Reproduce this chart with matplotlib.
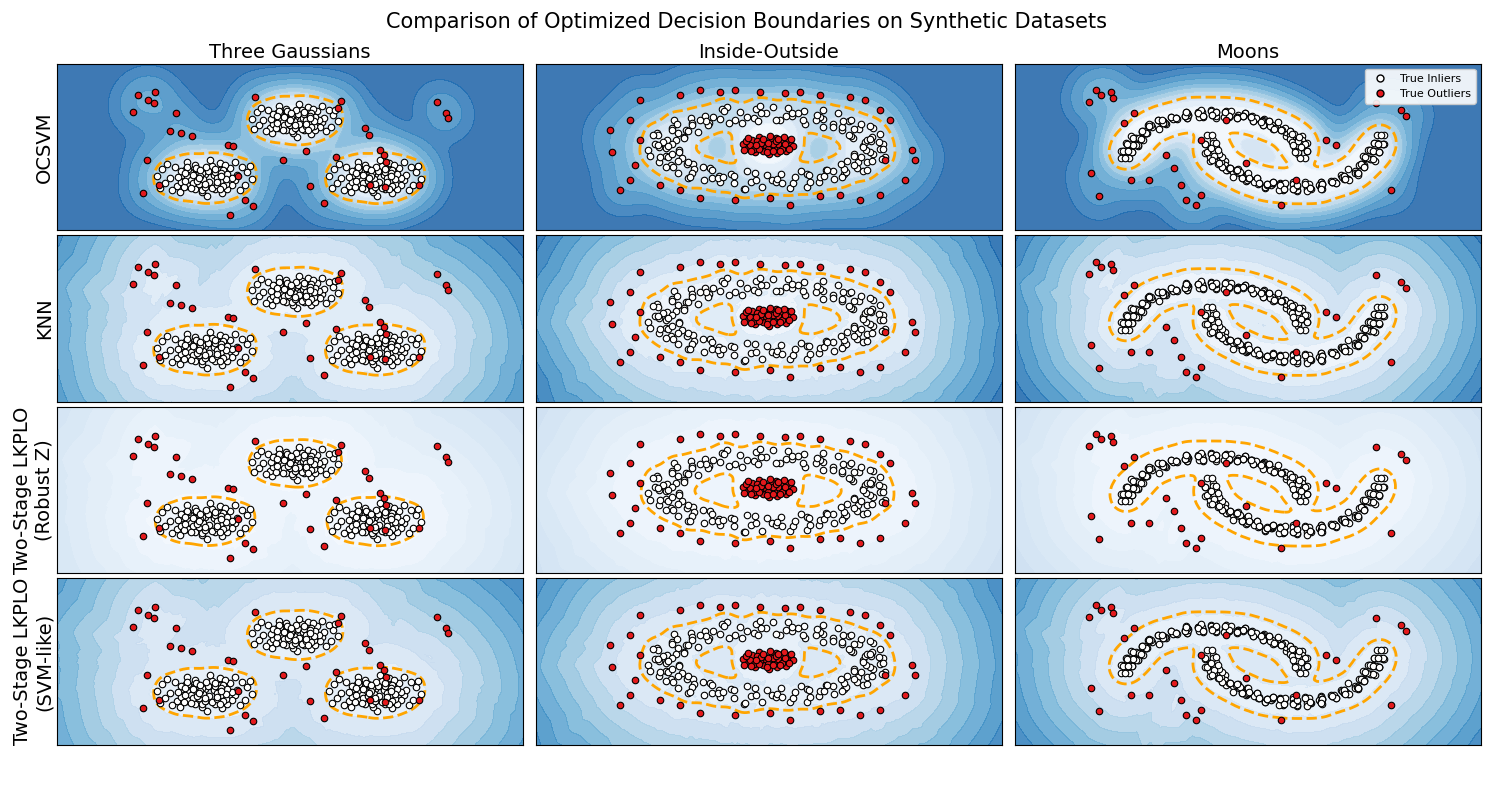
import numpy as np
import matplotlib
matplotlib.use("Agg")
import matplotlib.pyplot as plt
from matplotlib.lines import Line2D

# ---------------- data (panel units: x 0..466, y 0..167) ----------------
off = [(0.12,0.35),(-0.45,0.2),(0.6,-0.1),(-0.2,-0.55),(0.85,0.3),(-0.8,-0.25),(0.3,0.75),(-0.35,0.8),
       (0.05,-0.9),(0.5,0.5),(-0.6,0.55),(0.7,-0.6),(-0.1,0.05),(0.25,-0.3),(-0.5,-0.7),(0.95,-0.05),
       (-0.95,0.1),(0.4,0.1),(-0.3,-0.15),(0.15,0.6),(-0.7,0.0),(0.55,-0.35),(-0.15,0.45),(0.35,-0.75),
       (-0.4,0.4),(0.75,0.55),(-0.85,0.45),(0.0,-0.4),(0.2,0.15),(-0.25,0.25),(0.65,0.15),(-0.55,-0.4),
       (0.1,0.9),(-0.05,-0.7),(0.45,-0.55),(-0.65,-0.6),(0.8,-0.35),(-0.75,0.7),(0.3,0.4),(-0.35,-0.4),
       (0.0,0.2),(0.6,0.8),(-0.2,0.65),(0.9,0.6),(-0.9,-0.5),(0.2,-0.55),(-0.45,0.0),(0.4,0.65)]

gauss_centers = [(238,110,45,18),(148,52,50,20),(318,52,48,20)]
gauss_outliers = [(81,135),(91,130),(98,138),(97,127),(76,118),(119,117),(113,99),(124,97),(171,85),
                  (176,84),(86,37),(90,70),(102,45),(135,94),(188,30),(181,54),(226,70),(249,79),
                  (198,133),(284,129),(281,122),(308,102),(312,95),(323,80),(327,75),(329,68),(279,73),
                  (253,44),(267,27),(362,45),(380,128),(389,117),(391,112),(196,24),(173,15),(313,45),(328,43)]

ring_center = (232, 83)
ring_rx = (88, 122)
ring_ry = (25, 43)
ang = [3,8,14,19,25,31,36,41,47,52,58,63,69,74,80,85,91,96,102,107,113,118,124,129,135,140,146,151,
       157,162,168,173,179,184,190,195,201,206,212,217,223,228,234,239,245,250,256,261,267,272,278,283,
       289,294,300,305,311,316,322,327,333,338,344,349,355,11,28,44,61,77,94,110,127,143,160,176,193,
       209,226,242,259,275,292,308,325,341,358]
frac = [0.2,0.7,0.4,0.9,0.1,0.55,0.8,0.3,0.65,0.05,0.45,0.95,0.25,0.6,0.85,0.15,0.5,0.75,0.35,0.0,
        0.9,0.4,0.7,0.2,0.55,1.0,0.3,0.65,0.1,0.8,0.45,0.25,0.6,0.95,0.05,0.5,0.85,0.35,0.7,0.15,0.4,
        0.9,0.2,0.6,0.75,0.3,0.0,0.55,0.85,0.45,0.1,0.65,0.95,0.25,0.5,0.8,0.35,0.6,0.15,0.9,0.4,0.7,
        0.05,0.55,0.3,0.5,0.1,0.8,0.35,0.6,0.9,0.2,0.45,0.75,0.05,0.65,0.3,0.85,0.15,0.55,0.95,0.4,
        0.7,0.25,0.6,0.1,0.8]
ring_core = (232, 85, 26, 10)
ring_outliers = [(74,100),(76,78),(94,110),(99,65),(94,50),(104,130),(144,135),(164,140),(184,138),
                 (199,140),(224,138),(249,137),(264,138),(284,135),(314,133),(329,130),(344,120),
                 (354,110),(376,80),(379,70),(369,50),(344,35),(324,30),(304,35),(284,34),(254,25),
                 (234,32),(199,30),(164,32),(144,40),(124,45),(84,40),(349,70),(104,90)]

moon_up = (201, 72, 88, 45)
moon_low = (278, 95, 85, 52)
moon_outliers = [(81,140),(86,135),(96,138),(98,132),(74,128),(119,117),(109,107),(76,57),(84,34),
                 (134,50),(171,30),(181,25),(186,35),(151,75),(159,62),(231,67),(266,25),(281,50),
                 (311,90),(321,85),(361,127),(386,120),(391,114),(376,40),(211,110),(166,45),(116,50),(186,90)]

row_labels = ["OCSVM", "KNN", "Two-Stage LKPLO\n(Robust Z)", "Two-Stage LKPLO\n(SVM-like)"]
col_titles = ["Three Gaussians", "Inside-Outside", "Moons"]

# ---------------- build point sets ----------------
def gauss_points():
    pts = []
    for cx, cy, hx, hy in gauss_centers:
        for dx, dy in off:
            pts.append((cx + dx*hx, cy + dy*hy))
        for dx, dy in off:
            pts.append((cx - dy*hx*0.6, cy + dx*hy*0.6))
    return np.array(pts), np.array(gauss_outliers, float)

def ring_points():
    pts = []
    cx, cy = ring_center
    for a, f in zip(ang, frac):
        for aa, ff in ((a, f), (a + 2.5, 1 - f)):
            t = np.deg2rad(aa)
            rx = ring_rx[0] + ff*(ring_rx[1]-ring_rx[0])
            ry = ring_ry[0] + ff*(ring_ry[1]-ring_ry[0])
            pts.append((cx + rx*np.cos(t), cy + ry*np.sin(t)))
    core = []
    cx2, cy2, hx, hy = ring_core
    for dx, dy in off:
        core.append((cx2 + dx*hx, cy2 + dy*hy))
    return np.array(pts), np.vstack([np.array(core), np.array(ring_outliers, float)])

def moon_points():
    pts = []
    for f, (j, _) in zip(frac, off*2):
        for ff, jj in ((f, j), (1 - f*0.97, -j*0.8)):
            th = np.pi*ff
            cx, cy, rx, ry = moon_up
            s = 1 + 0.1*jj
            pts.append((cx + rx*s*np.cos(th), cy + ry*s*np.sin(th)))
            cx, cy, rx, ry = moon_low
            pts.append((cx - rx*s*np.cos(th), cy - ry*s*np.sin(th)))
    return np.array(pts), np.array(moon_outliers, float)

datasets = [gauss_points(), ring_points(), moon_points()]

xs = np.linspace(0, 466, 200)
ys = np.linspace(0, 167, 80)
GX, GY = np.meshgrid(xs, ys)
G = np.c_[GX.ravel(), GY.ravel()]

def dists(P):
    return np.sqrt(((G[:, None, :] - P[None, :, :])**2).sum(-1))

fig, axes = plt.subplots(4, 3, figsize=(14.93, 7.94), dpi=100)
fig.subplots_adjust(left=0.038, right=0.992, top=0.92, bottom=0.062, wspace=0.027, hspace=0.03)

for c, (inl, outl) in enumerate(datasets):
    allp = np.vstack([inl, outl])
    D = dists(allp)
    dens = np.exp(-D**2/(2*16.0**2)).sum(1)
    dens = np.clip(dens / np.percentile(dens, 99.5), 0, 1).reshape(GX.shape)
    Dsort = np.sort(D, axis=1)
    knn = Dsort[:, 5].reshape(GX.shape)
    core_pts = inl if c != 1 else np.vstack([inl, outl[:len(off)]])
    Di = dists(core_pts)
    tight = np.exp(-Di**2/(2*8.0**2)).sum(1)
    tight = (tight / np.percentile(tight, 99.5)).reshape(GX.shape)
    for r in range(4):
        ax = axes[r, c]
        if r == 0:
            lv = [0, 0.01, 0.03, 0.07, 0.13, 0.2, 0.3, 0.42, 0.56, 0.75, 1.01]
            cols = plt.cm.Blues(np.linspace(0.85, 0.04, len(lv)-1))
            ax.contourf(GX, GY, dens, levels=lv, colors=cols, alpha=0.8)
        elif r == 1:
            lv = np.linspace(0, knn.max()+1, 11)
            cols = plt.cm.Blues(np.linspace(0.06, 0.8, 10))
            ax.contourf(GX, GY, knn, levels=lv, colors=cols, alpha=0.85)
        elif r == 2:
            lv = np.linspace(0, knn.max()+1, 9)
            cols = plt.cm.Blues(np.linspace(0.03, 0.2, 8))
            ax.contourf(GX, GY, knn, levels=lv, colors=cols)
        else:
            lv = np.linspace(0, knn.max()+1, 10)
            cols = plt.cm.Blues(np.linspace(0.1, 0.7, 9))
            ax.contourf(GX, GY, knn, levels=lv, colors=cols, alpha=0.85)
        thr = [0.1, 0.1, 0.12, 0.1][r]
        ax.contour(GX, GY, tight, levels=[thr], colors='#FFA500', linestyles='--', linewidths=2)
        ax.scatter(inl[:, 0], inl[:, 1], s=22, facecolor='white', edgecolor='black', linewidth=0.8, zorder=3)
        ax.scatter(outl[:, 0], outl[:, 1], s=22, facecolor='#e3191c', edgecolor='black', linewidth=0.8, zorder=4)
        ax.set_xlim(0, 466); ax.set_ylim(0, 167)
        ax.set_xticks([]); ax.set_yticks([])
        if r == 0:
            ax.set_title(col_titles[c], fontsize=14, pad=4)
        if c == 0:
            ax.set_ylabel(row_labels[r], fontsize=14, labelpad=2)

handles = [Line2D([], [], marker='o', ls='', mfc='white', mec='black', ms=5, label='True Inliers'),
           Line2D([], [], marker='o', ls='', mfc='#e3191c', mec='black', ms=5, label='True Outliers')]
axes[0, 2].legend(handles=handles, loc='upper right', fontsize=8, framealpha=0.9)
fig.suptitle("Comparison of Optimized Decision Boundaries on Synthetic Datasets", fontsize=15, y=0.985)
fig.savefig("out.png", dpi=100)
